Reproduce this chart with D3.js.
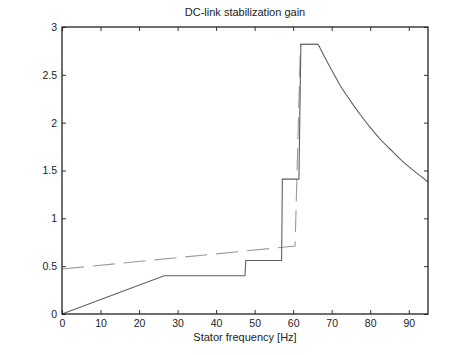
<!DOCTYPE html>
<html><head><meta charset="utf-8">
<script src="https://cdn.jsdelivr.net/npm/d3@7"></script>
<style>body{margin:0;background:#fff}svg{display:block}text{font-family:"Liberation Sans",Arial,sans-serif;fill:#222}</style>
</head><body>
<script>
const title = "DC-link stabilization gain";
const xLabel = "Stator frequency [Hz]";
const xTicks = [0,10,20,30,40,50,60,70,80,90];
const yTicks = [0,0.5,1,1.5,2,2.5,3];
// solid curve (step part)
const solidF = [0,26.5,47.5,47.7,57.0,57.2,61.5,62.0,66.5];
const solidG = [0,0.40,0.40,0.56,0.56,1.41,1.41,2.82,2.82];
// dashed curve (until it joins the solid one)
const dashF = [0,60.5,61.9,62.0,66.5];
const dashG = [0.47,0.71,2.82,2.82,2.82];
// common decaying part
const decayF = [66.5,68,70,72.5,75,77.5,80,82.5,85,87.5,90,92.5,95];
const decayG = [2.82,2.70,2.55,2.37,2.22,2.08,1.95,1.83,1.73,1.63,1.54,1.46,1.38];

const W=474,H=355, L=62,R=428,T=27,B=314;
const svg=d3.select("body").append("svg").attr("width",W).attr("height",H);
const x=d3.scaleLinear().domain([0,95]).range([L,R]);
const y=d3.scaleLinear().domain([0,3]).range([B,T]);
const line=d3.line().x(d=>x(d[0])).y(d=>y(d[1]));
const smooth=d3.line().x(d=>x(d[0])).y(d=>y(d[1])).curve(d3.curveMonotoneX);

svg.append("path").datum(dashF.map((f,i)=>[f,dashG[i]]))
  .attr("d",line).attr("fill","none").attr("stroke","#9a9a9a").attr("stroke-width",1.1)
  .attr("stroke-dasharray","22,9");
svg.append("path").datum(solidF.map((f,i)=>[f,solidG[i]]))
  .attr("d",line).attr("fill","none").attr("stroke","#606060").attr("stroke-width",1.1);
svg.append("path").datum(decayF.map((f,i)=>[f,decayG[i]]))
  .attr("d",smooth).attr("fill","none").attr("stroke","#606060").attr("stroke-width",1.1);

const tl=4;
const gx=svg.append("g").attr("transform",`translate(0,${B})`)
  .call(d3.axisBottom(x).tickValues(xTicks).tickSize(-tl).tickPadding(6).tickFormat(d3.format("d")));
const gxt=svg.append("g").attr("transform",`translate(0,${T})`)
  .call(d3.axisTop(x).tickValues(xTicks).tickSize(-tl).tickFormat(""));
const gy=svg.append("g").attr("transform",`translate(${L},0)`)
  .call(d3.axisLeft(y).tickValues(yTicks).tickSize(-tl).tickPadding(5).tickFormat(d=>String(d)));
const gyr=svg.append("g").attr("transform",`translate(${R},0)`)
  .call(d3.axisRight(y).tickValues(yTicks).tickSize(-tl).tickFormat(""));
[gx,gxt,gy,gyr].forEach(g=>{g.select(".domain").remove();g.selectAll("line").attr("stroke","#333");g.selectAll("text").attr("font-size",10.5).attr("fill","#222").attr("font-family","Liberation Sans, Arial, sans-serif");});
svg.append("rect").attr("x",L).attr("y",T).attr("width",R-L).attr("height",B-T)
  .attr("fill","none").attr("stroke","#222").attr("stroke-width",1.3);

svg.append("text").attr("x",(L+R)/2).attr("y",16).attr("text-anchor","middle").attr("font-size",11).text(title);
svg.append("text").attr("x",(L+R)/2).attr("y",341).attr("text-anchor","middle").attr("font-size",11).text(xLabel);
</script>
</body></html>
